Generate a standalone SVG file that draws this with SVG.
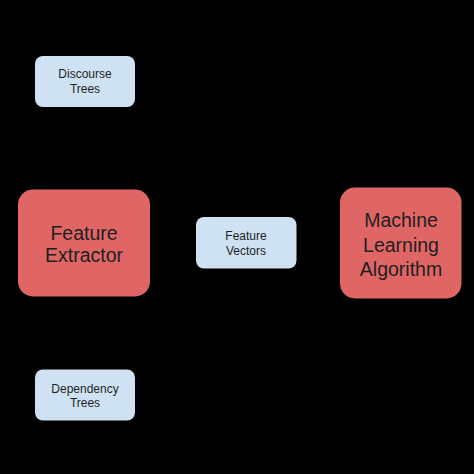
<svg xmlns="http://www.w3.org/2000/svg" width="474" height="474" viewBox="0 0 474 474">
  <style>
    .small { fill: #cfe2f3; }
    .big { fill: #e06666; }
    text { font-family: "Liberation Sans", Arial, sans-serif; fill: #1f1f1f; text-anchor: middle; }
    .s { font-size: 12px; }
    .l { font-size: 19.5px; }
    .conn { stroke: #000; stroke-width: 2; fill: none; marker-end: url(#arrow); }
  </style>
  <defs>
    <marker id="arrow" viewBox="0 0 10 10" refX="9" refY="5" markerWidth="6" markerHeight="6" orient="auto">
      <path d="M0,0 L10,5 L0,10 z" fill="#000"/>
    </marker>
  </defs>
  <rect x="0" y="0" width="474" height="474" fill="#000"/>
  <g id="connectors">
    <path class="conn" d="M35,81 L8,81 L8,243 L17,243"/>
    <path class="conn" d="M35,395 L8,395 L8,243 L17,243"/>
    <path class="conn" d="M150,243 L195,243"/>
    <path class="conn" d="M297,243 L339,243"/>
  </g>
  <g id="discourse-trees">
    <rect class="small" x="35" y="56" width="100" height="51" rx="8"/>
    <text class="s" x="85" y="78">Discourse</text>
    <text class="s" x="85" y="93">Trees</text>
  </g>
  <g id="dependency-trees">
    <rect class="small" x="35" y="369.5" width="100" height="51" rx="8"/>
    <text class="s" x="85" y="392.5">Dependency</text>
    <text class="s" x="85" y="407">Trees</text>
  </g>
  <g id="feature-extractor">
    <rect class="big" x="18" y="189.5" width="132" height="107" rx="15"/>
    <text class="l" x="84" y="239.5">Feature</text>
    <text class="l" x="84" y="262">Extractor</text>
  </g>
  <g id="feature-vectors">
    <rect class="small" x="196" y="217" width="100.5" height="51.5" rx="8"/>
    <text class="s" x="246" y="240">Feature</text>
    <text class="s" x="246" y="255">Vectors</text>
  </g>
  <g id="ml-algorithm">
    <rect class="big" x="340" y="187.5" width="121.5" height="111" rx="15"/>
    <text class="l" x="401" y="227">Machine</text>
    <text class="l" x="401" y="251.5">Learning</text>
    <text class="l" x="401" y="275.5">Algorithm</text>
  </g>
</svg>
